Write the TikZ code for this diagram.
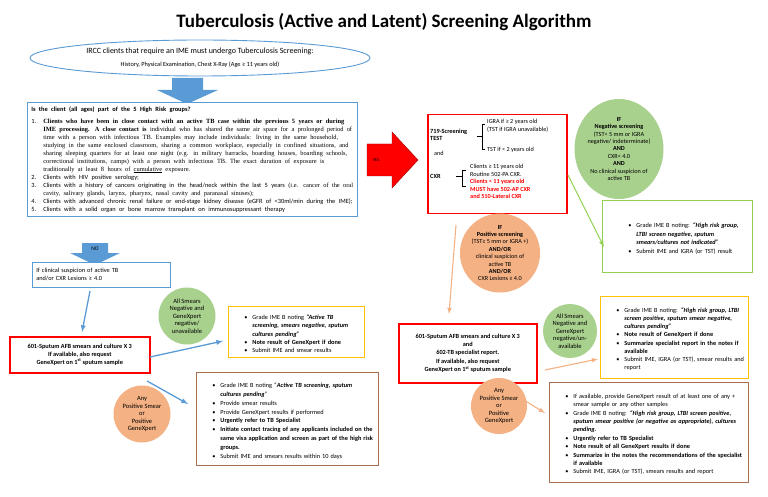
\documentclass[tikz,border=0pt]{standalone}
\usepackage{fontspec}
\setmainfont{Carlito}
\newfontfamily\tnr{Liberation Serif}
\usetikzlibrary{shapes.geometric}
\definecolor{bblue}{RGB}{91,155,213}
\definecolor{gfill}{RGB}{169,209,142}
\definecolor{ofill}{RGB}{244,177,131}
\definecolor{ybord}{RGB}{255,192,0}
\definecolor{brbord}{RGB}{166,112,80}
\definecolor{gbord}{RGB}{146,208,80}
\definecolor{oarr}{RGB}{244,177,131}
\newcommand{\myitem}[2][20pt]{\par\noindent\hangindent=#1\hangafter=1\hbox to #1{\hfil\textbullet\hspace{5pt}}\ignorespaces#2\par}
\newcommand{\mynum}[2]{\par\noindent\hangindent=12pt\hangafter=1\hbox to 12pt{#1.\hfil}\ignorespaces#2\par}
\begin{document}
\begin{tikzpicture}[x=1pt,y=-1pt,
  box/.style={draw, line width=#1, inner sep=3pt, anchor=north west, fill=white},
  circ/.style={circle, inner sep=0pt, align=center, font=\fontsize{6.5}{7.5}\selectfont},
  barr/.style={draw=bblue, line width=1.3pt, -latex},
  garr/.style={draw=gbord, line width=1.1pt, -latex},
  oa/.style={draw=oarr, line width=1.1pt, -latex},
  sm/.style={font=\fontsize{6.2}{7.5}\selectfont, inner sep=0pt, anchor=west}]
\useasboundingbox (0,0) rectangle (768,497);
\node[font=\bfseries\fontsize{19}{22}\selectfont] (title) at (384,22) {Tuberculosis (Active and Latent) Screening Algorithm};
\fill[bblue] (172,78) -- (203,78) -- (203,90) -- (218,90) -- (187,104) -- (157,90) -- (172,90) -- cycle;
\node[ellipse, draw=bblue, line width=0.9pt, fill=white, minimum width=340pt, minimum height=36pt, align=center, inner sep=0pt] (ell) at (200,58)
 {{\fontsize{8}{9}\selectfont IRCC clients that require an IME must undergo Tuberculosis Screening:}\\[1pt]{\fontsize{6.3}{7}\selectfont History, Physical Examination, Chest X-Ray (Age ≥ 11 years old)}};
\node[box=0.7pt, draw=bblue, text width=322pt, inner sep=4pt] (risk) at (27,102) {%
 \fontsize{6.4}{8}\selectfont\raggedright\textbf{Is the client (all ages) part of the 5 High Risk groups?}\par\vspace{4pt}
 \mynum{1}{{\tnr\textbf{Clients who have been in close contact with an active TB case within the previous 5 years or during IME processing. A close contact is} individual who has shared the same air space for a prolonged period of time with a person with infectious TB.  Examples may include individuals:  living in the same household, studying in the same enclosed classroom, sharing a common workplace, especially in confined situations, and sharing sleeping quarters for at least one night (e.g. in military barracks, boarding houses, boarding schools, correctional institutions, camps) with a person with infectious TB.  The exact duration of exposure is traditionally at least 8 hours of \underline{cumulative} exposure.}}
 \mynum{2}{Clients with HIV positive serology;}
 \mynum{3}{Clients with a history of cancers originating in the head/neck within the last 5 years {\tnr(i.e. cancer of the oral cavity, salivary glands, larynx, pharynx, nasal cavity and paranasal sinuses);}}
 \mynum{4}{Clients with advanced chronic renal failure or end-stage kidney disease (eGFR of <30ml/min during the IME);}
 \mynum{5}{Clients with a solid organ or bone marrow transplant on immunosuppressant therapy}};
\fill[bblue] (82,243) -- (108,243) -- (108,253) -- (120,253) -- (95,265) -- (70,253) -- (82,253) -- cycle;
\node[font=\fontsize{5.5}{6}\selectfont] (no) at (95,249) {NO};
\node[box=0.7pt, draw=bblue, minimum width=138pt, minimum height=25pt, text width=130pt, align=left, font=\fontsize{6.3}{8}\selectfont] (clin) at (32,262) {If clinical suspicion of active TB\\and/or CXR Lesions ≥ 4.0};
\node[box=1.5pt, draw=red, minimum width=140pt, minimum height=36pt, align=center, font=\bfseries\fontsize{6.3}{8}\selectfont] (sp1) at (9,336) {601-Sputum AFB smears and culture X 3\\If available, also request\\GeneXpert on 1\textsuperscript{st} sputum sample};
\draw[barr] (90,291) -- (82,332);
\node[circ, fill=gfill, minimum size=57pt] (g1) at (187,316) {All Smears\\Negative and\\GeneXpert\\negative/\\unavailable};
\node[box=0.9pt, draw=ybord, minimum width=136pt, minimum height=51pt, text width=128pt, font=\fontsize{6.3}{8.2}\selectfont] (y1) at (228,306) {\raggedright
 \myitem{Grade IME B noting \textbf{\textit{“Active TB screening, smears negative, sputum cultures pending”}}}
 \myitem{\textbf{Note result of GeneXpert if done}}
 \myitem{Submit IME and smear results}};
\draw[barr] (150,357) -- (223,341);
\node[circ, fill=ofill, minimum size=57pt] (o1) at (142,414) {Any\\Positive Smear\\or\\Positive\\GeneXpert};
\node[box=0.9pt, draw=brbord, minimum width=182pt, minimum height=93pt, text width=174pt, font=\fontsize{6.3}{8.8}\selectfont] (br1) at (196,372) {\raggedright
 \myitem{Grade IME B noting “\textbf{\textit{Active TB screening, sputum cultures pending}}”}
 \myitem{Provide smear results}
 \myitem{Provide GeneXpert results if performed}
 \myitem{\textbf{Urgently refer to TB Specialist}}
 \myitem{\textbf{Initiate contact tracing of any applicants included on the same visa application and screen as part of the high risk groups.}}
 \myitem{Submit IME and smears results within 10 days}};
\draw[barr] (147,381) -- (188,404);
\fill[red, draw=red!60!black, line width=0.4pt] (367,144) -- (392,144) -- (392,132) -- (418,160) -- (392,188) -- (392,176) -- (367,176) -- cycle;
\node[font=\fontsize{4.5}{5}\selectfont] (yes) at (376,160) {YES};
\node[box=1.5pt, draw=red, minimum width=139pt, minimum height=99pt] (scr) at (427,114) {};
\node[font=\bfseries\fontsize{6.3}{7.5}\selectfont, align=left, anchor=west, inner sep=0pt] (t719) at (430,135) {719-Screening\\TEST};
\node[sm] (and) at (434,153) {and};
\node[sm, font=\bfseries\fontsize{6.3}{7.5}\selectfont] (cxr) at (430,176) {CXR};
\draw[line width=0.6pt] (485,124) -- (482,124) -- (482,149) -- (485,149) (482,136) -- (477,136);
\node[sm] (igra) at (487,122) {IGRA if ≥ 2 years old};
\node[sm] (igra2) at (487,130) {(TST if IGRA unavailable)};
\node[sm] (tst) at (487,150) {TST if < 2 years old};
\draw[line width=0.6pt] (466,170) -- (462,170) -- (462,186) -- (466,186) (462,176) -- (456,176);
\node[sm, align=left, anchor=north west] (cl) at (470,164) {Clients ≥ 11 years old\\Routine 502-PA CXR.\\\textcolor{red}{\textbf{Clients < 11 years old}}\\\textcolor{red}{\textbf{MUST have 502-AP CXR}}\\\textcolor{red}{\textbf{and 510-Lateral CXR}}};
\node[ellipse, fill=gfill, inner sep=0pt, minimum width=88pt, minimum height=100pt, align=center, font=\fontsize{6.2}{7.4}\selectfont] (neg) at (619,149) {\textbf{IF}\\\textbf{Negative screening}\\(TST< 5 mm or IGRA\\negative/ indeterminate)\\\textbf{AND}\\CXR< 4.0\\\textbf{AND}\\No clinical suspicion of\\active TB};
\node[box=0.9pt, draw=gbord, minimum width=150pt, minimum height=72pt, text width=142pt, font=\fontsize{6.3}{8.6}\selectfont] (gb) at (602,200) {\raggedright
 \myitem[30pt]{Grade IME B noting: \textbf{\textit{“High risk group, LTBI screen negative, sputum smears/cultures not indicated”}}}
 \myitem[30pt]{Submit IME and IGRA (or TST) result}};
\draw[garr] (568,175) -- (604,247);
\node[ellipse, fill=ofill, inner sep=0pt, minimum width=80pt, minimum height=72pt, align=center, font=\fontsize{6.2}{7.4}\selectfont] (pos) at (500,253) {\textbf{IF}\\\textbf{Positive screening}\\(TST≥ 5 mm or IGRA +)\\\textbf{AND/OR}\\clinical suspicion of\\active TB\\\textbf{AND/OR}\\CXR Lesions ≥ 4.0};
\draw[oa] (456,225) -- (449,314);
\node[box=1.5pt, draw=red, minimum width=138pt, minimum height=59pt, align=center, font=\bfseries\fontsize{6.3}{8.3}\selectfont] (sp2) at (398,323) {601-Sputum AFB smears and culture X 3\\and\\602-TB specialist report.\\If available, also request\\GeneXpert on 1\textsuperscript{st} sputum sample};
\node[circ, fill=gfill, minimum size=54pt] (g2) at (570,331) {All Smears\\Negative and\\GeneXpert\\negative/un-\\available};
\node[box=0.9pt, draw=ybord, minimum width=148pt, minimum height=82pt, text width=140pt, font=\fontsize{6.3}{8.2}\selectfont] (y2) at (600,296) {\raggedright
 \myitem{Grade IME B noting: \textbf{\textit{“High risk group, LTBI screen positive, sputum smear negative, cultures pending”}}}
 \myitem{\textbf{Note result of GeneXpert if done}}
 \myitem{\textbf{Summarize specialist report in the notes if available}}
 \myitem{Submit IME, IGRA (or TST), smear results and report}};
\draw[oa] (545,370) -- (598,359);
\node[circ, fill=ofill, minimum size=56pt] (o2) at (499,406) {Any\\Positive Smear\\or\\Positive\\GeneXpert};
\node[box=0.9pt, draw=brbord, minimum width=199pt, minimum height=100pt, text width=191pt, font=\fontsize{6.3}{8.4}\selectfont] (br2) at (549,382) {\raggedright
 \myitem{If available, provide GeneXpert result of at least one of any + smear sample or any other samples}
 \myitem{Grade IME B noting: \textbf{\textit{“High risk group, LTBI screen positive, sputum smear positive (or negative as appropriate), cultures pending.}}}
 \myitem{\textbf{Urgently refer to TB Specialist}}
 \myitem{\textbf{Note result of all GeneXpert results if done}}
 \myitem{\textbf{Summarize in the notes the recommendations of the specialist if available}}
 \myitem{Submit IME, IGRA (or TST), smears results and report}};
\draw[oa] (506,389) -- (545,413);
\end{tikzpicture}
\end{document}
